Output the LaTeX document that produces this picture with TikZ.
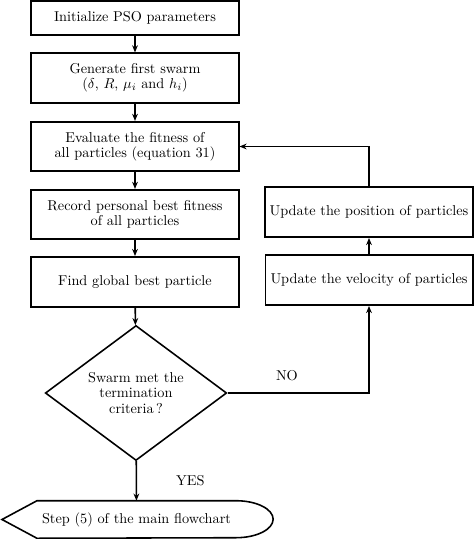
\documentclass[tikz,border=0pt]{standalone}
\usetikzlibrary{shapes.geometric,arrows.meta}

\begin{document}
\begin{tikzpicture}[x=0.7pt,y=-0.7pt]
\tikzset{BoxStyle/.style = {draw, line width=1.3pt, minimum width=145pt, minimum height=34.5pt, align=center, font=\linespread{0.85}\selectfont},
  DecisionStyle/.style = {draw, line width=1.1pt, shape=diamond, aspect=1.35, minimum width=127pt, minimum height=94.5pt, inner sep=0pt, align=center, font=\linespread{0.9}\selectfont},
  LineStyle/.style = {line width=1.1pt, -{Stealth[length=5pt,width=4pt]}}}
\useasboundingbox (0,0) rectangle (474,539);
\node[BoxStyle, minimum height=23.5pt] (init) at (135,18) {Initialize PSO parameters};
\node[BoxStyle] (gen) at (135,78) {Generate first swarm\\($\delta$, $R$, $\mu_i$ and $h_i$)};
\node[BoxStyle] (eval) at (135,146.5) {Evaluate the fitness of\\all particles (equation 31)};
\node[BoxStyle] (rec) at (135,214.5) {Record personal best fitness\\of all particles};
\node[BoxStyle, minimum height=35pt] (find) at (135,282) {Find global best particle};
\node[DecisionStyle] (crit) at (136,393) {Swarm met the\\termination\\criteria\,?};
\node[BoxStyle, minimum height=35pt] (vel) at (369,280) {Update the velocity of particles};
\node[BoxStyle, minimum height=35pt] (pos) at (369,212) {Update the position of particles};
\node[minimum width=135pt, minimum height=25.9pt] (step) at (136.5,519.5) {Step (5) of the main flowchart};
\draw[line width=1.1pt] ([xshift=-24.5pt]step.west) -- (step.north west) -- (step.north east)
  arc[start angle=90, end angle=-90, x radius=26pt, y radius=12.95pt] -- (step.south west) -- cycle;
% main line
\draw[LineStyle] (init) -- (gen); \draw[LineStyle] (gen) -- (eval); \draw[LineStyle] (eval) -- (rec);
\draw[LineStyle] (rec) -- (find); \draw[LineStyle] (find) -- (crit);
\draw[LineStyle] (crit) -- node[right=24pt] {YES} (step);
% loop back
\draw[LineStyle] (crit.east) -| node[pos=0.21, above=4.5pt] {NO} (vel.south);
\draw[LineStyle] (vel) -- (pos);
\draw[LineStyle] (pos.north) |- (eval.east);
\end{tikzpicture}
\end{document}
